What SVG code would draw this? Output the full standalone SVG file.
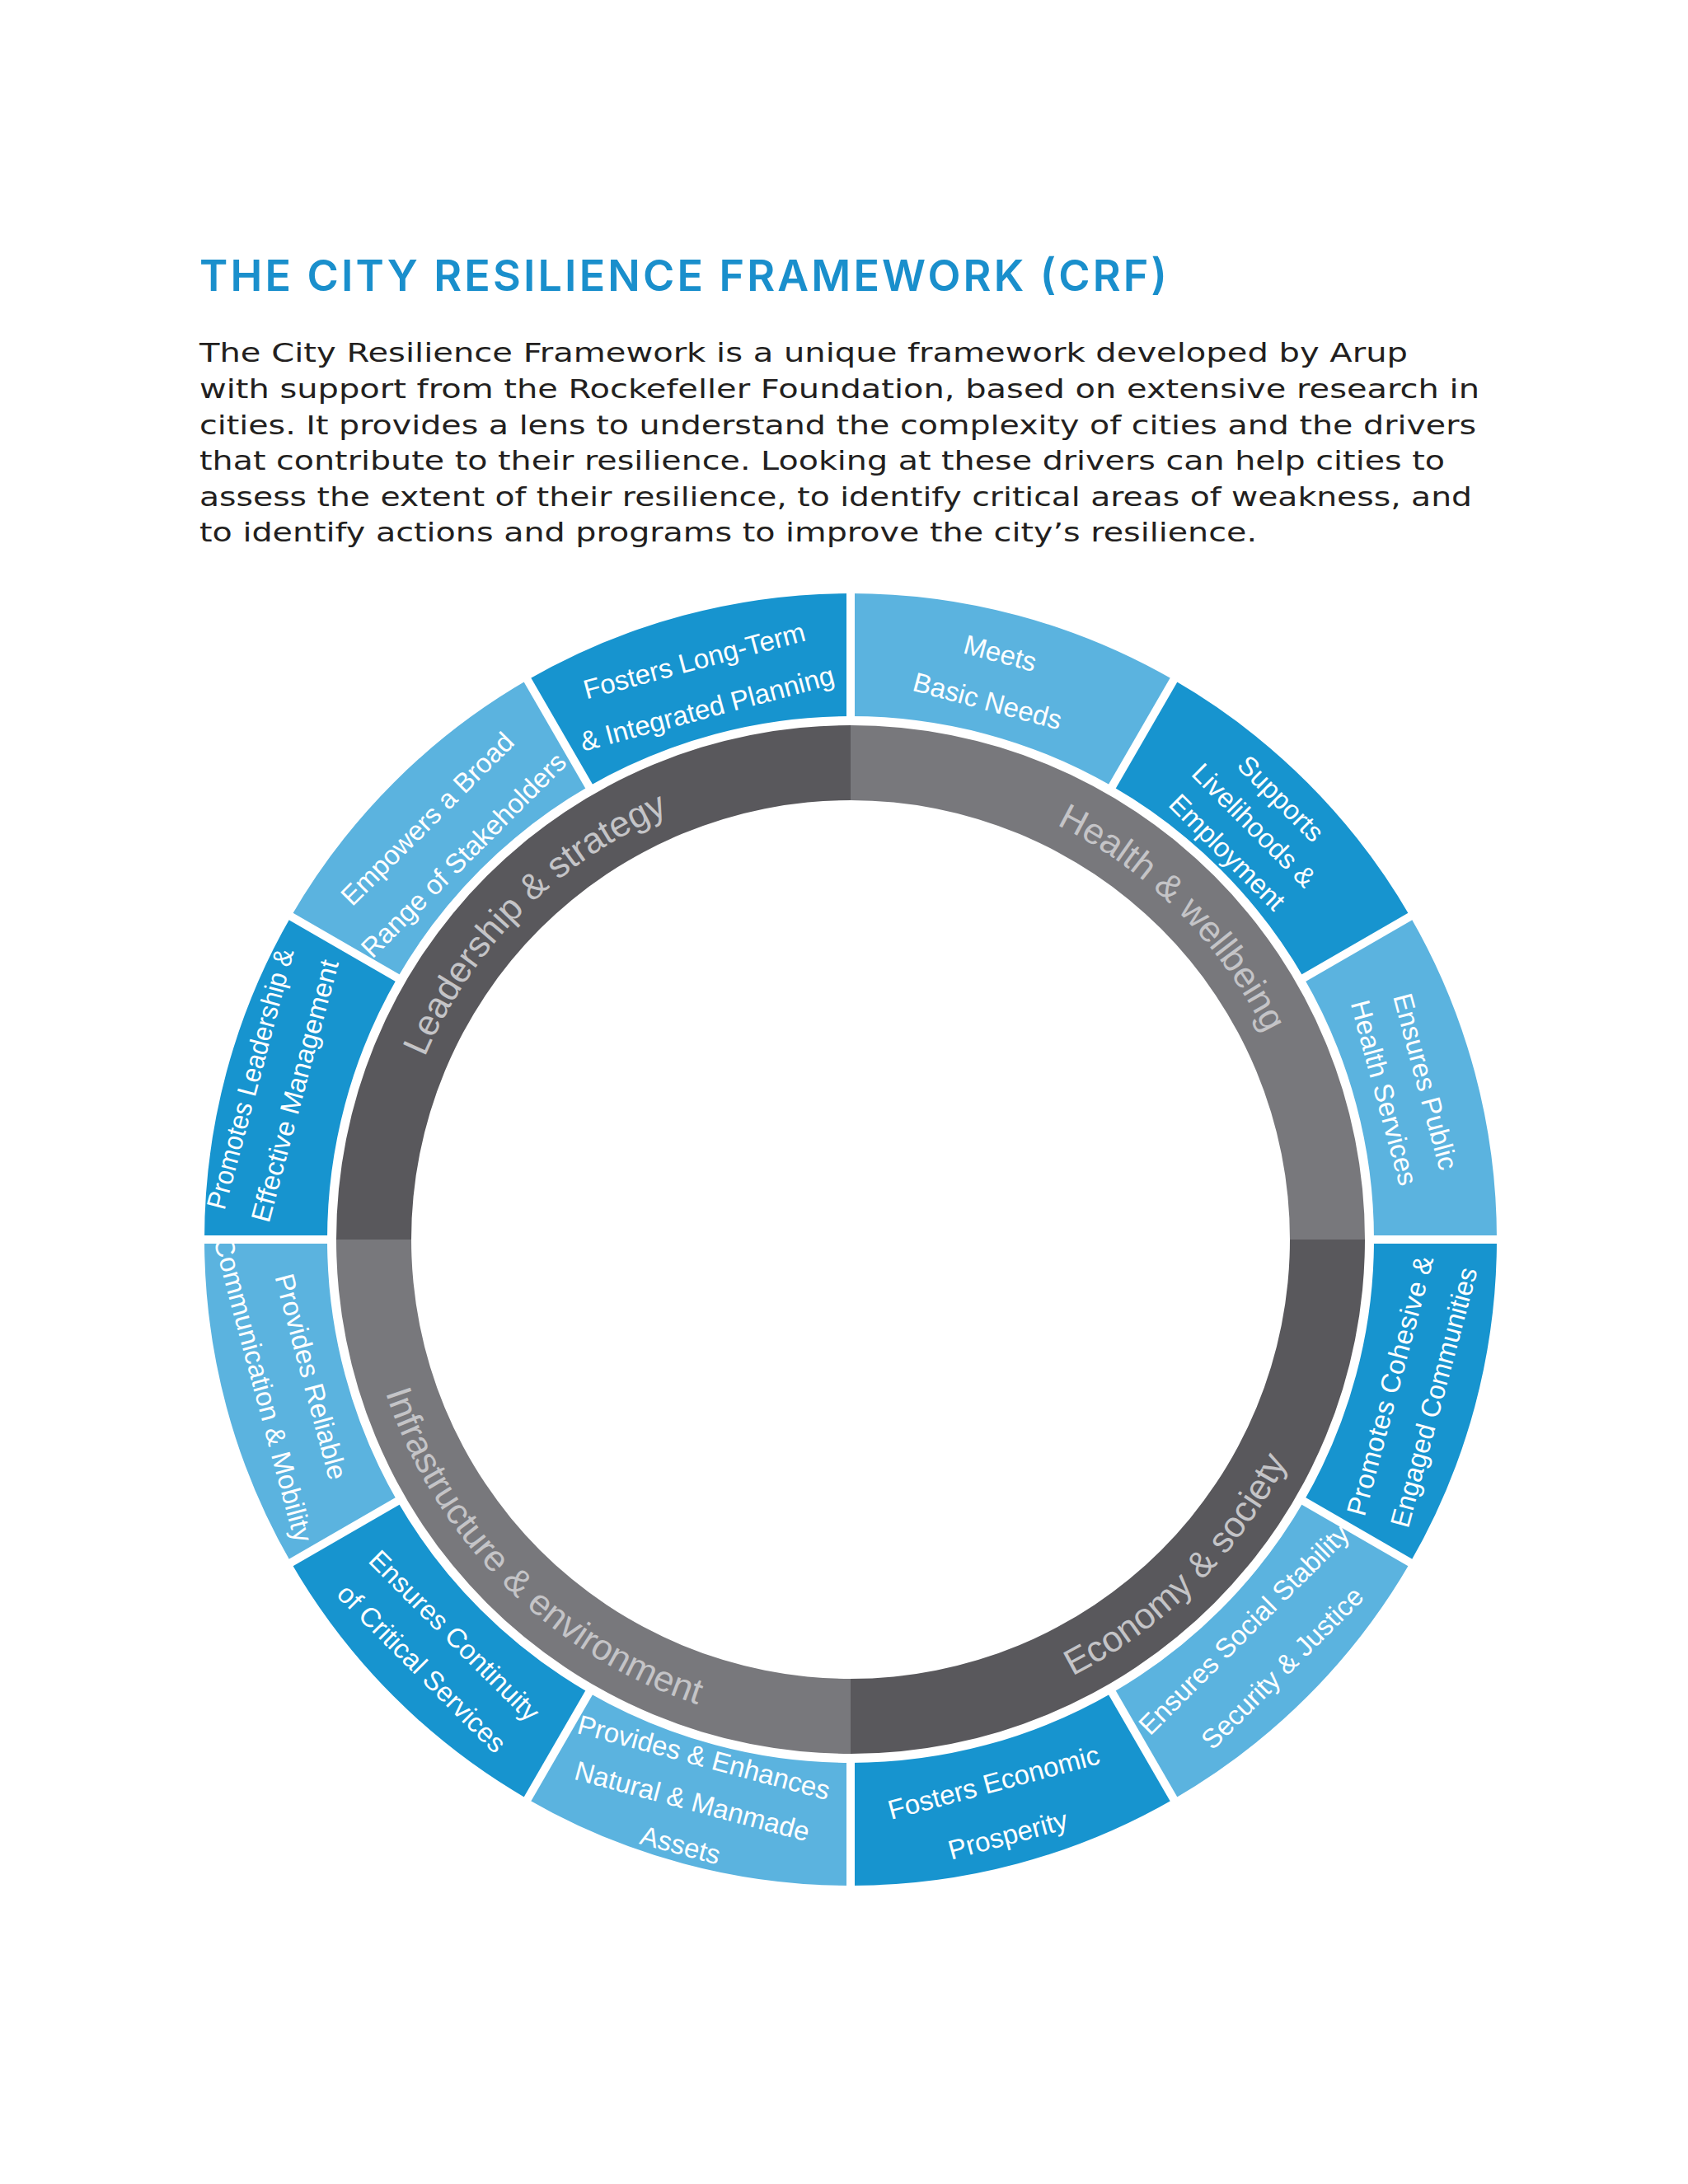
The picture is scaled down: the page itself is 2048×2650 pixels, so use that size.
<svg xmlns="http://www.w3.org/2000/svg" width="2048" height="2650" viewBox="0 0 2048 2650">
<style>
.title{font-family:Inter,"Liberation Sans",sans-serif;font-weight:600;font-size:52px;fill:#1a8fcc}
.body{font-family:"DejaVu Sans","Liberation Sans",sans-serif;font-size:32px;fill:#231f20}
.db{fill:#1794cf}
.lb{fill:#5bb3df}
.dg{fill:#59585c}
.lg{fill:#78787c}
.gt{font-family:"Liberation Sans",Arial,sans-serif;font-size:44px;fill:#c4c4c7}
.bt{font-family:"Liberation Sans",Arial,sans-serif;font-size:33px;fill:#ffffff;text-anchor:middle}
.sep{stroke:#ffffff;stroke-width:10;fill:none}
</style>
<defs>
<path id="arcLead" d="M 470 1504 A 562 562 0 0 1 1032 942"/>
<path id="arcHealth" d="M 1032 942 A 562 562 0 0 1 1594 1504"/>
<path id="arcEcon" d="M 1032 2098 A 594 594 0 0 0 1626 1504"/>
<path id="arcInfra" d="M 438 1504 A 594 594 0 0 0 1032 2098"/>
</defs>
<rect width="2048" height="2650" fill="#ffffff"/>

<g id="title">
<text class="title" x="242" y="353" textLength="1174" lengthAdjust="spacing">THE CITY RESILIENCE FRAMEWORK (CRF)</text>
</g>

<g id="intro" class="body">
<text class="body" x="242" y="439" textLength="1466" lengthAdjust="spacingAndGlyphs">The City Resilience Framework is a unique framework developed by Arup</text>
<text class="body" x="242" y="483" textLength="1553" lengthAdjust="spacingAndGlyphs">with support from the Rockefeller Foundation, based on extensive research in</text>
<text class="body" x="242" y="527" textLength="1549" lengthAdjust="spacingAndGlyphs">cities. It provides a lens to understand the complexity of cities and the drivers</text>
<text class="body" x="242" y="570" textLength="1511" lengthAdjust="spacingAndGlyphs">that contribute to their resilience. Looking at these drivers can help cities to</text>
<text class="body" x="242" y="614" textLength="1544" lengthAdjust="spacingAndGlyphs">assess the extent of their resilience, to identify critical areas of weakness, and</text>
<text class="body" x="242" y="657" textLength="1283" lengthAdjust="spacingAndGlyphs">to identify actions and programs to improve the city’s resilience.</text>
</g>

<!-- inner ring: dimensions -->
<g id="dim-leadership">
<path class="dg" d="M408 1504 A624 624 0 0 1 1032 880 L1032 971 A533 533 0 0 0 499 1504 Z"/>
<text class="gt"><textPath href="#arcLead" startOffset="50%" text-anchor="middle">Leadership &amp; strategy</textPath></text>
</g>
<g id="dim-health">
<path class="lg" d="M1032 880 A624 624 0 0 1 1656 1504 L1565 1504 A533 533 0 0 0 1032 971 Z"/>
<text class="gt"><textPath href="#arcHealth" startOffset="50%" text-anchor="middle">Health &amp; wellbeing</textPath></text>
</g>
<g id="dim-economy">
<path class="dg" d="M1656 1504 A624 624 0 0 1 1032 2128 L1032 2037 A533 533 0 0 0 1565 1504 Z"/>
<text class="gt"><textPath href="#arcEcon" startOffset="50%" text-anchor="middle">Economy &amp; society</textPath></text>
</g>
<g id="dim-infrastructure">
<path class="lg" d="M1032 2128 A624 624 0 0 1 408 1504 L499 1504 A533 533 0 0 0 1032 2037 Z"/>
<text class="gt"><textPath href="#arcInfra" startOffset="50%" text-anchor="middle">Infrastructure &amp; environment</textPath></text>
</g>

<!-- outer ring: goals -->
<g id="goal-basic-needs">
<path class="lb" d="M1032 720 A784 784 0 0 1 1424 825.1 L1349.5 954.1 A635 635 0 0 0 1032 869 Z"/>
<g transform="translate(1206 821) rotate(15)"><text class="bt" y="-18">Meets</text><text class="bt" y="42">Basic Needs</text></g>
</g>
<g id="goal-livelihoods">
<path class="db" d="M1424 825.1 A784 784 0 0 1 1710.9 1112 L1581.9 1186.5 A635 635 0 0 0 1349.5 954.1 Z"/>
<g transform="translate(1522 1001) rotate(45)"><text class="bt" y="-34">Supports</text><text class="bt" y="12">Livelihoods &amp;</text><text class="bt" y="58">Employment</text></g>
</g>
<g id="goal-public-health">
<path class="lb" d="M1710.9 1112 A784 784 0 0 1 1816 1504 L1667 1504 A635 635 0 0 0 1581.9 1186.5 Z"/>
<g transform="translate(1705 1319) rotate(75)"><text class="bt" y="-14">Ensures Public</text><text class="bt" y="38">Health Services</text></g>
</g>
<g id="goal-cohesive">
<path class="db" d="M1816 1504 A784 784 0 0 1 1710.9 1896 L1581.9 1821.5 A635 635 0 0 0 1667 1504 Z"/>
<g transform="translate(1712 1688) rotate(-75)"><text class="bt" y="-15" textLength="325" lengthAdjust="spacing">Promotes Cohesive &amp;</text><text class="bt" y="40" textLength="325" lengthAdjust="spacingAndGlyphs">Engaged Communities</text></g>
</g>
<g id="goal-social-stability">
<path class="lb" d="M1710.9 1896 A784 784 0 0 1 1424 2182.9 L1349.5 2053.9 A635 635 0 0 0 1581.9 1821.5 Z"/>
<g transform="translate(1532 2000) rotate(-45)"><text class="bt" y="-21">Ensures Social Stability</text><text class="bt" y="45">Security &amp; Justice</text></g>
</g>
<g id="goal-economic">
<path class="db" d="M1424 2182.9 A784 784 0 0 1 1032 2288 L1032 2139 A635 635 0 0 0 1349.5 2053.9 Z"/>
<g transform="translate(1214 2194) rotate(-15)"><text class="bt" y="-21">Fosters Economic</text><text class="bt" y="45">Prosperity</text></g>
</g>
<g id="goal-natural-assets">
<path class="lb" d="M1032 2288 A784 784 0 0 1 640 2182.9 L714.5 2053.9 A635 635 0 0 0 1032 2139 Z"/>
<g transform="translate(840 2185) rotate(15)"><text class="bt" y="-43">Provides &amp; Enhances</text><text class="bt" y="12">Natural &amp; Manmade</text><text class="bt" y="67">Assets</text></g>
</g>
<g id="goal-continuity">
<path class="db" d="M640 2182.9 A784 784 0 0 1 353.1 1896 L482.1 1821.5 A635 635 0 0 0 714.5 2053.9 Z"/>
<g transform="translate(532 2004) rotate(45)"><text class="bt" y="-16">Ensures Continuity</text><text class="bt" y="40">of Critical Services</text></g>
</g>
<g id="goal-communication">
<path class="lb" d="M353.1 1896 A784 784 0 0 1 248 1504 L397 1504 A635 635 0 0 0 482.1 1821.5 Z"/>
<g transform="translate(349 1678) rotate(75)"><text class="bt" y="-18">Provides Reliable</text><text class="bt" y="42">Communication &amp; Mobility</text></g>
</g>
<g id="goal-leadership">
<path class="db" d="M248 1504 A784 784 0 0 1 353.1 1112 L482.1 1186.5 A635 635 0 0 0 397 1504 Z"/>
<g transform="translate(330 1316) rotate(-75)"><text class="bt" y="-16" textLength="326" lengthAdjust="spacingAndGlyphs">Promotes Leadership &amp;</text><text class="bt" y="40">Effective Management</text></g>
</g>
<g id="goal-stakeholders">
<path class="lb" d="M353.1 1112 A784 784 0 0 1 640 825.1 L714.5 954.1 A635 635 0 0 0 482.1 1186.5 Z"/>
<g transform="translate(540 1015) rotate(-45)"><text class="bt" y="-19">Empowers a Broad</text><text class="bt" y="43">Range of Stakeholders</text></g>
</g>
<g id="goal-planning">
<path class="db" d="M640 825.1 A784 784 0 0 1 1032 720 L1032 869 A635 635 0 0 0 714.5 954.1 Z"/>
<g transform="translate(850 830) rotate(-15)"><text class="bt" y="-18">Fosters Long-Term</text><text class="bt" y="42">&amp; Integrated Planning</text></g>
</g>

<g id="separators" class="sep">
<line x1="1032" y1="876" x2="1032" y2="704"/>
<line x1="1346" y1="960.1" x2="1432" y2="811.2"/>
<line x1="1575.9" y1="1190" x2="1724.8" y2="1104"/>
<line x1="1660" y1="1504" x2="1832" y2="1504"/>
<line x1="1575.9" y1="1818" x2="1724.8" y2="1904"/>
<line x1="1346" y1="2047.9" x2="1432" y2="2196.8"/>
<line x1="1032" y1="2132" x2="1032" y2="2304"/>
<line x1="718" y1="2047.9" x2="632" y2="2196.8"/>
<line x1="488.1" y1="1818" x2="339.2" y2="1904"/>
<line x1="404" y1="1504" x2="232" y2="1504"/>
<line x1="488.1" y1="1190" x2="339.2" y2="1104"/>
<line x1="718" y1="960.1" x2="632" y2="811.2"/>
</g>
</svg>
